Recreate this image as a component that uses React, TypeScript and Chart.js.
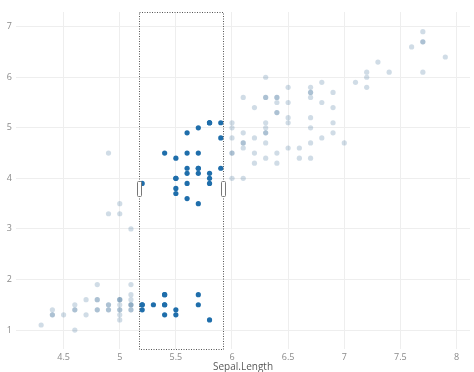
import React, { useEffect, useRef } from "react";
import { Chart, registerables } from "chart.js";

Chart.register(...registerables);

// Iris: Sepal.Length and Petal.Length (150 flowers)
const sepalLength: number[] = [
  5.1, 4.9, 4.7, 4.6, 5.0, 5.4, 4.6, 5.0, 4.4, 4.9, 5.4, 4.8, 4.8, 4.3, 5.8, 5.7, 5.4, 5.1, 5.7, 5.1,
  5.4, 5.1, 4.6, 5.1, 4.8, 5.0, 5.0, 5.2, 5.2, 4.7, 4.8, 5.4, 5.2, 5.5, 4.9, 5.0, 5.5, 4.9, 4.4, 5.1,
  5.0, 4.5, 4.4, 5.0, 5.1, 4.8, 5.1, 4.6, 5.3, 5.0,
  7.0, 6.4, 6.9, 5.5, 6.5, 5.7, 6.3, 4.9, 6.6, 5.2, 5.0, 5.9, 6.0, 6.1, 5.6, 6.7, 5.6, 5.8, 6.2, 5.6,
  5.9, 6.1, 6.3, 6.1, 6.4, 6.6, 6.8, 6.7, 6.0, 5.7, 5.5, 5.5, 5.8, 6.0, 5.4, 6.0, 6.7, 6.3, 5.6, 5.5,
  5.5, 6.1, 5.8, 5.0, 5.6, 5.7, 5.7, 6.2, 5.1, 5.7,
  6.3, 5.8, 7.1, 6.3, 6.5, 7.6, 4.9, 7.3, 6.7, 7.2, 6.5, 6.4, 6.8, 5.7, 5.8, 6.4, 6.5, 7.7, 7.7, 6.0,
  6.9, 5.6, 7.7, 6.3, 6.7, 7.2, 6.2, 6.1, 6.4, 7.2, 7.4, 7.9, 6.4, 6.3, 6.1, 7.7, 6.3, 6.4, 6.0, 6.9,
  6.7, 6.9, 5.8, 6.8, 6.7, 6.7, 6.3, 6.5, 6.2, 5.9,
];

const petalLength: number[] = [
  1.4, 1.4, 1.3, 1.5, 1.4, 1.7, 1.4, 1.5, 1.4, 1.5, 1.5, 1.6, 1.4, 1.1, 1.2, 1.5, 1.3, 1.4, 1.7, 1.5,
  1.7, 1.5, 1.0, 1.7, 1.9, 1.6, 1.6, 1.5, 1.4, 1.6, 1.6, 1.5, 1.5, 1.4, 1.5, 1.2, 1.3, 1.4, 1.3, 1.5,
  1.3, 1.3, 1.3, 1.6, 1.9, 1.4, 1.6, 1.4, 1.5, 1.4,
  4.7, 4.5, 4.9, 4.0, 4.6, 4.5, 4.7, 3.3, 4.6, 3.9, 3.5, 4.2, 4.0, 4.7, 3.6, 4.4, 4.5, 4.1, 4.5, 3.9,
  4.8, 4.0, 4.9, 4.7, 4.3, 4.4, 4.8, 5.0, 4.5, 3.5, 3.8, 3.7, 3.9, 5.1, 4.5, 4.5, 4.7, 4.4, 4.1, 4.0,
  4.4, 4.6, 4.0, 3.3, 4.2, 4.2, 4.2, 4.3, 3.0, 4.1,
  6.0, 5.1, 5.9, 5.6, 5.8, 6.6, 4.5, 6.3, 5.8, 6.1, 5.1, 5.3, 5.5, 5.0, 5.1, 5.3, 5.5, 6.7, 6.9, 5.0,
  5.7, 4.9, 6.7, 4.9, 5.7, 6.0, 4.8, 4.9, 5.6, 5.8, 6.1, 6.4, 5.6, 5.1, 5.6, 6.1, 5.6, 5.5, 4.8, 5.4,
  5.6, 5.1, 5.1, 5.9, 5.7, 5.2, 5.0, 5.2, 5.4, 5.1,
];

// brushed Sepal.Length interval
const brushRange: number[] = [5.17, 5.92];

// axis ticks
const xTickValues: number[] = [4.5, 5, 5.5, 6, 6.5, 7, 7.5, 8];
const yTickValues: number[] = [1, 2, 3, 4, 5, 6, 7];
const xAxisRange: number[] = [4.076, 8.12];
const yAxisRange: number[] = [0.625, 7.29];
const xTitle = "Sepal.Length";

const FONT = "'Open Sans', 'Noto Sans', sans-serif";

const brushPlugin = {
  id: "brushBox",
  afterDatasetsDraw(chart: any) {
    const { ctx, chartArea, scales } = chart;
    const xs = scales.x;
    const ys = scales.y;
    const x0 = Math.round(xs.getPixelForValue(brushRange[0])) + 0.5;
    const x1 = Math.round(xs.getPixelForValue(brushRange[1])) + 0.5;
    const y0 = Math.round(chartArea.top) + 0.5;
    const y1 = Math.round(chartArea.bottom) + 0.5;
    ctx.save();
    ctx.strokeStyle = "#555";
    ctx.lineWidth = 1;
    ctx.setLineDash([1, 1.5]);
    ctx.strokeRect(x0, y0, x1 - x0, y1 - y0);
    ctx.setLineDash([]);
    // handles
    const hy = ys.getPixelForValue(3.8);
    const hw = 4;
    const hh = 15;
    for (const hx of [x0, x1]) {
      ctx.beginPath();
      const rx = hx - hw / 2;
      const ry = Math.round(hy - hh / 2) + 0.5;
      const r = 1;
      ctx.moveTo(rx + r, ry);
      ctx.lineTo(rx + hw - r, ry);
      ctx.quadraticCurveTo(rx + hw, ry, rx + hw, ry + r);
      ctx.lineTo(rx + hw, ry + hh - r);
      ctx.quadraticCurveTo(rx + hw, ry + hh, rx + hw - r, ry + hh);
      ctx.lineTo(rx + r, ry + hh);
      ctx.quadraticCurveTo(rx, ry + hh, rx, ry + hh - r);
      ctx.lineTo(rx, ry + r);
      ctx.quadraticCurveTo(rx, ry, rx + r, ry);
      ctx.closePath();
      ctx.fillStyle = "#fff";
      ctx.fill();
      ctx.strokeStyle = "#777";
      ctx.stroke();
    }
    ctx.restore();
  },
};

export default function App() {
  const canvasRef = useRef<HTMLCanvasElement | null>(null);

  useEffect(() => {
    if (!canvasRef.current) return;
    const selected: { x: number; y: number }[] = [];
    const unselected: { x: number; y: number }[] = [];
    sepalLength.forEach((x, i) => {
      const p = { x, y: petalLength[i] };
      if (x >= brushRange[0] && x <= brushRange[1]) selected.push(p);
      else unselected.push(p);
    });

    const chart = new Chart(canvasRef.current, {
      type: "scatter",
      data: {
        datasets: [
          {
            label: "unselected",
            data: unselected,
            backgroundColor: "rgba(60,110,150,0.24)",
            borderWidth: 0,
            pointRadius: 2.6,
          },
          {
            label: "selected",
            data: selected,
            backgroundColor: "#1f6eab",
            borderWidth: 0,
            pointRadius: 2.6,
          },
        ],
      },
      options: {
        responsive: false,
        animation: false,
        events: [],
        layout: { padding: { top: 12, left: 0, right: 0, bottom: 0 } },
        plugins: {
          legend: { display: false },
          tooltip: { enabled: false },
          title: { display: false },
        },
        scales: {
          x: {
            type: "linear",
            min: xAxisRange[0],
            max: xAxisRange[1],
            afterBuildTicks: (axis: any) => {
              axis.ticks = xTickValues.map((v) => ({ value: v }));
            },
            afterFit: (axis: any) => {
              axis.height = 23;
            },
            grid: { color: "#eeeeee", drawTicks: false, lineWidth: 1 },
            border: { display: false },
            ticks: {
              padding: 3,
              maxRotation: 0,
              color: "#8a8a8a",
              font: { family: FONT, size: 9 },
              callback: (v: any) => String(v),
            },
            title: {
              display: true,
              text: xTitle,
              color: "#5a5a5a",
              font: { family: FONT, size: 10 },
              padding: { top: 0, bottom: -1 },
            },
          },
          y: {
            type: "linear",
            min: yAxisRange[0],
            max: yAxisRange[1],
            afterBuildTicks: (axis: any) => {
              axis.ticks = yTickValues.map((v) => ({ value: v }));
            },
            afterFit: (axis: any) => {
              axis.width = 16;
            },
            grid: { color: "#eeeeee", drawTicks: false, lineWidth: 1 },
            border: { display: false },
            ticks: {
              padding: 4,
              color: "#8a8a8a",
              font: { family: FONT, size: 9 },
              callback: (v: any) => String(v),
            },
          },
        },
      },
      plugins: [brushPlugin],
    } as any);

    return () => chart.destroy();
  }, []);

  return (
    <div style={{ position: "absolute", left: 0, top: 0, width: 474, height: 372, background: "#fff" }}>
      <canvas ref={canvasRef} width={474} height={372} style={{ display: "block" }} />
    </div>
  );
}
